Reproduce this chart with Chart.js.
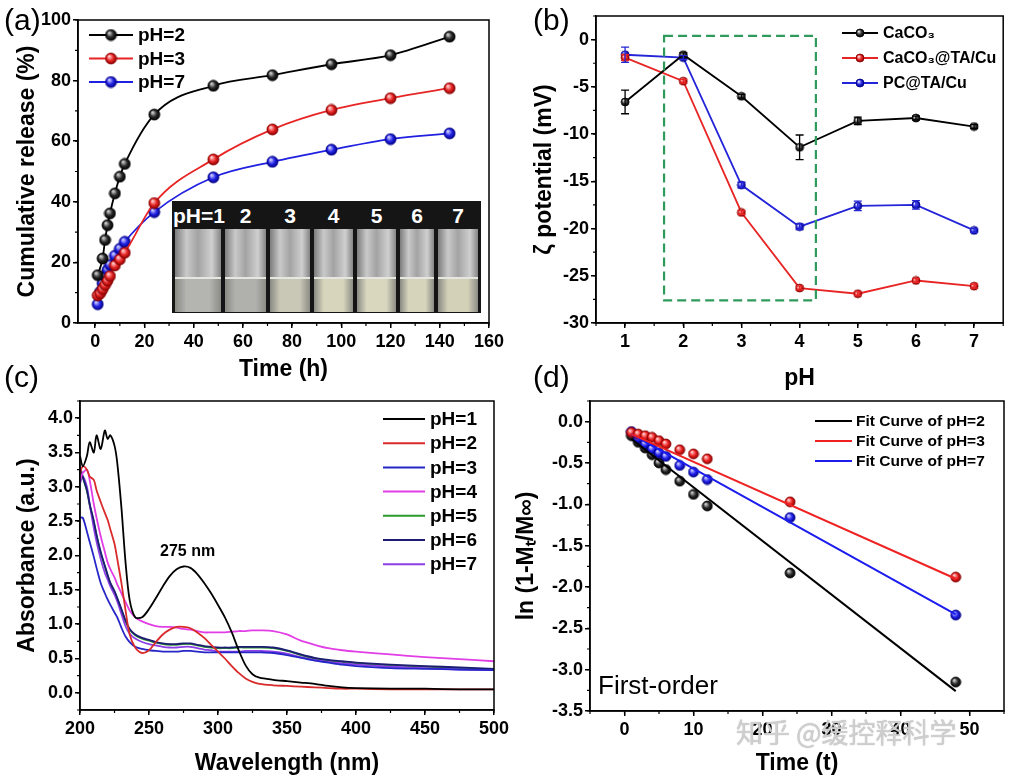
<!DOCTYPE html>
<html>
<head>
<meta charset="utf-8">
<script src="https://cdn.jsdelivr.net/npm/chart.js@4.4.1/dist/chart.umd.min.js"></script>
<style>
  body { margin: 0; background: #fff; width: 1009px; height: 777px; position: relative; overflow: hidden; font-family: "Liberation Sans", Arial, sans-serif; }
  .panel { position: absolute; }
  .txt { position: absolute; line-height: 1; white-space: nowrap; color: #000; }
  .plab { font-size: 30px; }
  #inset { position: absolute; left: 172px; top: 201px; width: 309px; height: 112px; background: #151515; overflow: hidden; }
  .vial { position: absolute; top: 0; height: 112px; }
  .vial span { position: absolute; top: 3px; left: 0; right: 0; text-align: center; color: #fff; font-weight: bold; font-size: 21px; }
  .glass { position: absolute; left: 2px; right: 2px; top: 28px; height: 48px; background: linear-gradient(90deg, #7d7d7d, #c9c9c9 25%, #a3a3a3 50%, #cfcfcf 80%, #858585); }
  .liq { position: absolute; left: 2px; right: 2px; top: 76px; height: 33px; border-top: 2px solid #e6e6e0; }
</style>
</head>
<body>

<div class="panel" style="left:0;top:0;width:512px;height:383px"><canvas id="ca"></canvas></div>
<div class="panel" style="left:500px;top:0;width:509px;height:392px"><canvas id="cb"></canvas></div>
<div class="panel" style="left:0;top:370px;width:512px;height:407px"><canvas id="cc"></canvas></div>
<div class="panel" style="left:500px;top:370px;width:509px;height:407px"><canvas id="cd"></canvas></div>

<div id="inset"></div>

<div class="txt plab" style="left:4px;top:5px">(a)</div>
<div class="txt plab" style="left:533px;top:5px">(b)</div>
<div class="txt plab" style="left:4px;top:362px">(c)</div>
<div class="txt plab" style="left:533px;top:362px">(d)</div>
<div class="txt" style="left:160px;top:543px;font-size:16px;font-weight:bold">275 nm</div>
<div class="txt" style="left:598px;top:672px;font-size:26px">First-order</div>
<div class="txt" style="left:736px;top:718px;font-size:27px;font-family:'Noto Sans CJK SC';color:rgba(215,215,215,0.85);text-shadow:0 0 1px #999">知乎 @缓控释科学</div>

<script>
// ---------- (a) cumulative release ----------
const tA2 = [1, 3, 4, 5, 6, 8, 10, 12, 24, 48, 72, 96, 120, 144];
const relA2 = [15.8, 21.3, 27.4, 32.3, 36.2, 42.8, 48.3, 52.5, 68.8, 78.3, 81.8, 85.4, 88.4, 94.5];
const tA = [1, 2, 3, 4, 5, 6, 8, 10, 12, 24, 48, 72, 96, 120, 144];
const relA3 = [9.1, 9.8, 11.2, 12.6, 14.0, 15.5, 19.0, 21.0, 23.2, 39.6, 54.0, 63.9, 70.3, 74.2, 77.5];
const relA7 = [6.2, 10.3, 13.1, 15.5, 17.5, 19.2, 22.2, 24.5, 26.8, 36.6, 48.1, 53.2, 57.2, 60.7, 62.6];
const xTicksA = [0, 20, 40, 60, 80, 100, 120, 140, 160];
const yTicksA = [0, 20, 40, 60, 80, 100];

// ---------- (b) zeta potential ----------
const phB = [1, 2, 3, 4, 5, 6, 7];
const zetaCaCO3 = [-6.6, -1.6, -6.0, -11.4, -8.6, -8.3, -9.2];
const errCaCO3 = [1.25, 0.2, 0.2, 1.3, 0.4, 0.2, 0.2];
const zetaCaTA = [-1.9, -4.4, -18.3, -26.3, -26.9, -25.5, -26.1];
const errCaTA = [0.3, 0.2, 0.2, 0.2, 0.2, 0.2, 0.2];
const zetaPC = [-1.6, -1.9, -15.4, -19.8, -17.6, -17.5, -20.2];
const errPC = [0.8, 0.2, 0.3, 0.3, 0.5, 0.45, 0.2];
const boxPH = [1.67, 4.28];
const boxZeta = [0.4, -27.6];
const xTicksB = [1, 2, 3, 4, 5, 6, 7];
const yTicksB = [-30, -25, -20, -15, -10, -5, 0];

// ---------- (c) UV-vis ----------
const wl = [200, 202, 205, 207, 210, 212, 215, 218, 220, 222, 225, 227, 230, 233, 236, 240, 245, 250, 255, 260, 265, 270, 275, 280, 285, 290, 295, 300, 305, 310, 315, 320, 325, 330, 340, 350, 360, 370, 380, 390, 400, 425, 450, 475, 500];
const absPH1 = [3.45, 3.3, 3.45, 3.65, 3.5, 3.75, 3.55, 3.82, 3.7, 3.75, 3.6, 3.35, 2.7, 1.9, 1.35, 1.1, 1.1, 1.22, 1.38, 1.55, 1.7, 1.8, 1.84, 1.82, 1.73, 1.6, 1.45, 1.28, 1.1, 0.88, 0.62, 0.4, 0.27, 0.22, 0.19, 0.17, 0.15, 0.13, 0.1, 0.08, 0.07, 0.06, 0.06, 0.05, 0.05];
const absPH2 = [3.2, 3.3, 3.25, 3.15, 3.1, 2.95, 2.78, 2.62, 2.52, 2.38, 2.17, 1.95, 1.6, 1.2, 0.85, 0.66, 0.58, 0.62, 0.74, 0.85, 0.92, 0.96, 0.96, 0.94, 0.88, 0.8, 0.7, 0.6, 0.5, 0.39, 0.29, 0.21, 0.16, 0.13, 0.11, 0.1, 0.09, 0.08, 0.07, 0.06, 0.06, 0.05, 0.05, 0.05, 0.05];
const absPH3 = [2.55, 2.55, 2.35, 2.2, 1.98, 1.82, 1.6, 1.45, 1.36, 1.28, 1.17, 1.1, 0.95, 0.82, 0.74, 0.67, 0.64, 0.62, 0.61, 0.6, 0.6, 0.6, 0.61, 0.61, 0.6, 0.59, 0.59, 0.59, 0.59, 0.59, 0.59, 0.59, 0.59, 0.59, 0.58, 0.55, 0.51, 0.47, 0.44, 0.41, 0.39, 0.36, 0.35, 0.34, 0.33];
const absPH4 = [3.1, 3.2, 3.25, 3.1, 2.75, 2.55, 2.28, 2.05, 1.9, 1.8, 1.68, 1.58, 1.45, 1.32, 1.2, 1.1, 1.04, 1.0, 0.97, 0.96, 0.96, 0.95, 0.93, 0.92, 0.9, 0.88, 0.88, 0.88, 0.88, 0.89, 0.9, 0.9, 0.91, 0.91, 0.9, 0.85, 0.76, 0.7, 0.65, 0.62, 0.6, 0.56, 0.52, 0.49, 0.46];
const absPH5 = [3.29, 3.14, 2.94, 2.74, 2.49, 2.29, 2.04, 1.84, 1.71, 1.59, 1.47, 1.37, 1.21, 1.04, 0.92, 0.84, 0.79, 0.76, 0.73, 0.71, 0.7, 0.7, 0.71, 0.71, 0.69, 0.67, 0.66, 0.65, 0.65, 0.65, 0.66, 0.66, 0.66, 0.66, 0.65, 0.61, 0.55, 0.5, 0.47, 0.45, 0.43, 0.4, 0.38, 0.36, 0.34];
const absPH6 = [3.3, 3.15, 2.95, 2.75, 2.5, 2.3, 2.05, 1.85, 1.72, 1.6, 1.48, 1.38, 1.22, 1.05, 0.93, 0.85, 0.8, 0.77, 0.74, 0.72, 0.71, 0.71, 0.72, 0.72, 0.7, 0.68, 0.67, 0.66, 0.66, 0.66, 0.67, 0.67, 0.67, 0.67, 0.66, 0.62, 0.56, 0.51, 0.48, 0.46, 0.44, 0.41, 0.39, 0.37, 0.35];
const absPH7 = [3.05, 3.15, 3.0, 2.75, 2.4, 2.2, 1.95, 1.75, 1.65, 1.55, 1.43, 1.33, 1.15, 0.97, 0.86, 0.79, 0.74, 0.71, 0.69, 0.67, 0.66, 0.66, 0.67, 0.67, 0.65, 0.63, 0.62, 0.6, 0.6, 0.6, 0.6, 0.61, 0.61, 0.61, 0.6, 0.57, 0.52, 0.48, 0.45, 0.43, 0.41, 0.38, 0.36, 0.34, 0.33];
const xTicksC = [200, 250, 300, 350, 400, 450, 500];
const yTicksC = [0, 0.5, 1, 1.5, 2, 2.5, 3, 3.5, 4];

// ---------- (d) first-order fit ----------
const tD = [1, 2, 3, 4, 5, 6, 8, 10, 12, 24, 48];
const lnPH2 = [-0.17, -0.25, -0.32, -0.40, -0.50, -0.58, -0.72, -0.88, -1.02, -1.83, -3.15];
const lnPH3 = [-0.13, -0.15, -0.17, -0.19, -0.23, -0.27, -0.34, -0.39, -0.45, -0.97, -1.88];
const lnPH7 = [-0.12, -0.20, -0.27, -0.33, -0.38, -0.42, -0.53, -0.61, -0.70, -1.16, -2.34];
const fitT = [1, 48];
const fitPH2 = [-0.21, -3.26];
const fitPH3 = [-0.15, -1.90];
const fitPH7 = [-0.15, -2.33];
const xTicksD = [0, 10, 20, 30, 40, 50];
const yTicksD = [-3.5, -3, -2.5, -2, -1.5, -1, -0.5, 0];

const vials = [
  { label: 'pH=1', w: 50, liq: '#b4b5b1' },
  { label: '2', w: 45, liq: '#b0b1ad' },
  { label: '3', w: 44, liq: '#c9c7b6' },
  { label: '4', w: 43, liq: '#d7d5bc' },
  { label: '5', w: 43, liq: '#d9d7be' },
  { label: '6', w: 38, liq: '#d6d4bb' },
  { label: '7', w: 44, liq: '#d3d1b8' }
];

// inset photo (drawn roughly with boxes)
const inset = document.getElementById('inset');
let vx = 1;
vials.forEach(v => {
  inset.innerHTML += `
    <div class="vial" style="left:${vx}px;width:${v.w}px">
      <div class="glass"></div>
      <div class="liq" style="background:linear-gradient(90deg, #8a8a84, ${v.liq} 25%, ${v.liq} 75%, #8c8c86)"></div>
      <span>${v.label}</span>
    </div>`;
  vx += v.w;
});

const pts = (xs, ys) => xs.map((x, i) => ({ x: x, y: ys[i] }));

function sphere(c0, c1, c2, r) {
  const cv = document.createElement('canvas');
  cv.width = cv.height = 2 * r + 2;
  const g = cv.getContext('2d');
  const c = r + 1;
  const grad = g.createRadialGradient(c - r * 0.35, c - r * 0.4, r * 0.1, c, c, r);
  grad.addColorStop(0, c0);
  grad.addColorStop(0.55, c1);
  grad.addColorStop(1, c2);
  g.fillStyle = grad;
  g.beginPath();
  g.arc(c, c, r, 0, Math.PI * 2);
  g.fill();
  g.strokeStyle = c2;
  g.lineWidth = 0.8;
  g.stroke();
  return cv;
}

const FONT = '"Liberation Sans", Arial, sans-serif';
const tickFont = { family: FONT, size: 18, weight: 'bold' };
const titleFont = { family: FONT, size: 23, weight: 'bold' };

// plot frame, minor ticks, error bars, annotation box, in-plot legend
const framePlugin = {
  id: 'frame',
  afterDraw(chart, args, o) {
    const { ctx, chartArea: a, scales } = chart;
    ctx.save();
    ctx.strokeStyle = '#000';
    ctx.lineWidth = 1.5;
    ctx.strokeRect(a.left, a.top, a.right - a.left, a.bottom - a.top);
    // minor ticks
    ctx.lineWidth = 1.2;
    ctx.beginPath();
    for (let v = o.xMinorStart; v <= scales.x.max + 1e-9; v += o.xMinor) {
      const px = scales.x.getPixelForValue(v);
      if (px < a.left - 0.5 || px > a.right + 0.5) continue;
      ctx.moveTo(px, a.bottom);
      ctx.lineTo(px, a.bottom + 3);
    }
    for (let v = o.yMinorStart; v <= scales.y.max + 1e-9; v += o.yMinor) {
      const py = scales.y.getPixelForValue(v);
      if (py < a.top - 0.5 || py > a.bottom + 0.5) continue;
      ctx.moveTo(a.left, py);
      ctx.lineTo(a.left - 3, py);
    }
    ctx.stroke();
    ctx.restore();
  }
};

const errorBarPlugin = {
  id: 'errBars',
  afterDatasetsDraw(chart) {
    const { ctx, scales } = chart;
    ctx.save();
    chart.data.datasets.forEach(ds => {
      if (!ds.errs) return;
      ctx.strokeStyle = ds.borderColor;
      ctx.lineWidth = 1.3;
      ds.data.forEach((p, i) => {
        const px = scales.x.getPixelForValue(p.x);
        const y1 = scales.y.getPixelForValue(p.y + ds.errs[i]);
        const y2 = scales.y.getPixelForValue(p.y - ds.errs[i]);
        ctx.beginPath();
        ctx.moveTo(px, y1); ctx.lineTo(px, y2);
        ctx.moveTo(px - 4, y1); ctx.lineTo(px + 4, y1);
        ctx.moveTo(px - 4, y2); ctx.lineTo(px + 4, y2);
        ctx.stroke();
      });
    });
    ctx.restore();
  }
};

const dashBoxPlugin = {
  id: 'dashBox',
  afterDatasetsDraw(chart, args, o) {
    if (!o.xs) return;
    const { ctx, scales } = chart;
    const x1 = scales.x.getPixelForValue(o.xs[0]), x2 = scales.x.getPixelForValue(o.xs[1]);
    const y1 = scales.y.getPixelForValue(o.ys[0]), y2 = scales.y.getPixelForValue(o.ys[1]);
    ctx.save();
    ctx.strokeStyle = '#2e9b5c';
    ctx.lineWidth = 2.2;
    ctx.setLineDash([9, 5]);
    ctx.strokeRect(x1, y1, x2 - x1, y2 - y1);
    ctx.restore();
  }
};

const boxLegendPlugin = {
  id: 'boxLegend',
  afterDraw(chart, args, o) {
    const ctx = chart.ctx;
    ctx.save();
    ctx.font = o.font;
    ctx.textBaseline = 'middle';
    let k = 0;
    chart.data.datasets.forEach(ds => {
      if (ds.inLegend === false) return;
      const y = o.y + k * o.dy;
      k++;
      ctx.strokeStyle = ds.borderColor;
      ctx.lineWidth = 2;
      ctx.beginPath();
      ctx.moveTo(o.x, y);
      ctx.lineTo(o.x + o.len, y);
      ctx.stroke();
      const ps = ds.pointStyle;
      if (ps && ps.width && ds.pointRadius !== 0) {
        ctx.drawImage(ps, o.x + o.len / 2 - ps.width / 2, y - ps.height / 2);
      }
      ctx.fillStyle = '#000';
      ctx.fillText(ds.label, o.x + o.len + o.gap, y + 1);
    });
    ctx.restore();
  }
};

function axes(c) {
  const grid = { drawOnChartArea: false, drawTicks: true, tickLength: 5, color: '#000', lineWidth: 1.5 };
  const border = { display: true, color: '#000', width: 1.5 };
  return {
    x: {
      type: 'linear', min: c.xMin, max: c.xMax,
      afterBuildTicks: s => { s.ticks = c.xTicks.map(v => ({ value: v })); },
      afterFit: s => { s.height = c.xH; s.paddingLeft = 0; s.paddingRight = 0; },
      grid: grid, border: border,
      ticks: { font: tickFont, color: '#000', padding: 3, maxRotation: 0, autoSkip: false, callback: c.xFmt || (v => String(v)) },
      title: { display: true, text: c.xTitle, font: titleFont, color: '#000', padding: 0 }
    },
    y: {
      type: 'linear', min: c.yMin, max: c.yMax,
      afterBuildTicks: s => { s.ticks = c.yTicks.map(v => ({ value: v })); },
      afterFit: s => { s.width = c.yW; s.paddingTop = 0; s.paddingBottom = 0; },
      grid: grid, border: border,
      ticks: { font: tickFont, color: '#000', padding: 2, autoSkip: false, callback: c.yFmt || (v => String(v)) },
      title: { display: true, text: c.yTitle, font: titleFont, color: '#000', padding: c.yPad }
    }
  };
}

function baseOptions(pad, sc, plug) {
  return {
    responsive: true,
    maintainAspectRatio: false,
    animation: false,
    layout: { padding: pad },
    scales: sc,
    plugins: Object.assign({ legend: { display: false }, tooltip: { enabled: false } }, plug)
  };
}

const plugs = [framePlugin, errorBarPlugin, dashBoxPlugin, boxLegendPlugin];

// ---- chart (a)
const spK = sphere('#d0d0d0', '#2a2a2a', '#000', 5.5);
const spR = sphere('#ffd0d0', '#e82525', '#8a0000', 5.5);
const spB = sphere('#d0d0ff', '#2424e6', '#000088', 5.5);

new Chart(document.getElementById('ca'), {
  type: 'line',
  data: {
    datasets: [
      { label: 'pH=2', data: pts(tA2, relA2), borderColor: '#000', borderWidth: 1.8, pointStyle: spK, cubicInterpolationMode: 'monotone' },
      { label: 'pH=3', data: pts(tA, relA3), borderColor: '#e82525', borderWidth: 1.8, pointStyle: spR, cubicInterpolationMode: 'monotone' },
      { label: 'pH=7', data: pts(tA, relA7), borderColor: '#2020e0', borderWidth: 1.8, pointStyle: spB, cubicInterpolationMode: 'monotone' }
    ]
  },
  options: baseOptions({ left: 0, top: 20, right: 23, bottom: 0 },
    axes({ xMin: -7, xMax: 160, xTicks: xTicksA, xH: 60, xTitle: 'Time (h)',
           yMin: 0, yMax: 100, yTicks: yTicksA, yW: 78, yTitle: 'Cumulative release (%)', yPad: 14 }),
    { frame: { xMinor: 10, xMinorStart: 0, yMinor: 10, yMinorStart: 0 },
      boxLegend: { x: 89, y: 35, dy: 23.5, len: 44, gap: 5, font: 'bold 19px ' + FONT } }),
  plugins: plugs
});

// ---- chart (b)
const spbK = sphere('#e0e0e0', '#333', '#000', 4);
const spbR = sphere('#ffe0e0', '#e82525', '#8a0000', 4);
const spbB = sphere('#e0e0ff', '#2828e0', '#000088', 4);

new Chart(document.getElementById('cb'), {
  type: 'line',
  data: {
    datasets: [
      { label: 'CaCO₃', data: pts(phB, zetaCaCO3), errs: errCaCO3, borderColor: '#000', borderWidth: 1.8, pointStyle: spbK, tension: 0 },
      { label: 'CaCO₃@TA/Cu', data: pts(phB, zetaCaTA), errs: errCaTA, borderColor: '#e82525', borderWidth: 1.8, pointStyle: spbR, tension: 0 },
      { label: 'PC@TA/Cu', data: pts(phB, zetaPC), errs: errPC, borderColor: '#2424d8', borderWidth: 1.8, pointStyle: spbB, tension: 0 }
    ]
  },
  options: baseOptions({ left: 0, top: 16, right: 4, bottom: 0 },
    axes({ xMin: 0.5, xMax: 7.5, xTicks: xTicksB, xH: 69, xTitle: 'pH',
           yMin: -30, yMax: 2.5, yTicks: yTicksB, yW: 96, yTitle: 'ζ potential (mV)', yPad: 31 }),
    { frame: { xMinor: 0.5, xMinorStart: 0.5, yMinor: 2.5, yMinorStart: -30 },
      dashBox: { xs: boxPH, ys: boxZeta },
      boxLegend: { x: 342, y: 33, dy: 25, len: 36, gap: 5, font: 'bold 16px ' + FONT } }),
  plugins: plugs
});

// ---- chart (c)
const specs = [
  ['pH=1', absPH1, '#000000', 0],
  ['pH=2', absPH2, '#d92b2b', 0],
  ['pH=3', absPH3, '#2626c8', 0],
  ['pH=4', absPH4, '#e23ee6', 0],
  ['pH=5', absPH5, '#2b9a2b', 1],
  ['pH=6', absPH6, '#1c1c72', 0],
  ['pH=7', absPH7, '#8c3fe6', 0]
];
new Chart(document.getElementById('cc'), {
  type: 'line',
  data: {
    datasets: specs.map(s => ({ label: s[0], data: pts(wl, s[1]), borderColor: s[2], borderWidth: 1.8, pointRadius: 0, tension: 0.3, order: s[3] }))
  },
  options: baseOptions({ left: 0, top: 31, right: 18, bottom: 0 },
    axes({ xMin: 200, xMax: 500, xTicks: xTicksC, xH: 67, xTitle: 'Wavelength (nm)',
           yMin: -0.25, yMax: 4.25, yTicks: yTicksC, yW: 80, yTitle: 'Absorbance (a.u.)', yPad: 14, yFmt: v => v.toFixed(1) }),
    { frame: { xMinor: 25, xMinorStart: 200, yMinor: 0.25, yMinorStart: -0.25 },
      boxLegend: { x: 383, y: 49, dy: 24.2, len: 42, gap: 5, font: 'bold 19px ' + FONT } }),
  plugins: plugs
});

// ---- chart (d)
const spdK = sphere('#d0d0d0', '#2a2a2a', '#000', 5);
const spdR = sphere('#ffd0d0', '#ee2222', '#8a0000', 5);
const spdB = sphere('#d0d0ff', '#2222ee', '#000088', 5);
new Chart(document.getElementById('cd'), {
  type: 'line',
  data: {
    datasets: [
      { label: 'Fit Curve of pH=2', data: pts(fitT, fitPH2), borderColor: '#000', borderWidth: 2, pointRadius: 0 },
      { label: 'Fit Curve of pH=3', data: pts(fitT, fitPH3), borderColor: '#ee2222', borderWidth: 2, pointRadius: 0 },
      { label: 'Fit Curve of pH=7', data: pts(fitT, fitPH7), borderColor: '#1c1cee', borderWidth: 2, pointRadius: 0 },
      { label: 'pH=3', data: pts(tD, lnPH3), showLine: false, pointStyle: spdR, borderColor: '#ee2222', inLegend: false },
      { label: 'pH=7', data: pts(tD, lnPH7), showLine: false, pointStyle: spdB, borderColor: '#1c1cee', inLegend: false },
      { label: 'pH=2', data: pts(tD, lnPH2), showLine: false, pointStyle: spdK, borderColor: '#000', inLegend: false }
    ]
  },
  options: baseOptions({ left: 0, top: 31, right: 3, bottom: 0 },
    axes({ xMin: -5, xMax: 55, xTicks: xTicksD, xH: 66, xTitle: 'Time (t)',
           yMin: -3.5, yMax: 0.25, yTicks: yTicksD, yW: 90, yTitle: 'ln (1-Mₜ/M∞)', yPad: 13, yFmt: v => v.toFixed(1) }),
    { frame: { xMinor: 5, xMinorStart: -5, yMinor: 0.25, yMinorStart: -3.5 },
      boxLegend: { x: 315, y: 51, dy: 20, len: 37, gap: 4, font: 'bold 15.5px ' + FONT } }),
  plugins: plugs
});
</script>
</body>
</html>
